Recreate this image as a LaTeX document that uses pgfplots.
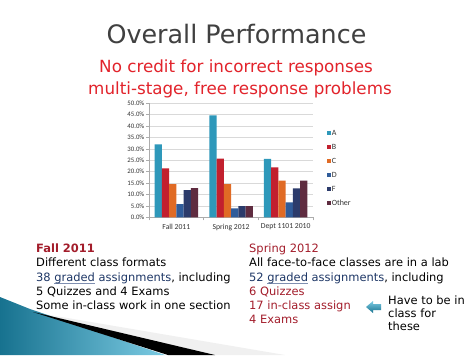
\documentclass[border=0pt]{standalone}
\usepackage{pgfplots}
\pgfplotsset{compat=1.18}
\usepackage{fontspec}
\setmainfont{DejaVu Sans}
\newfontfamily\chartfont{Carlito}
\definecolor{cA}{HTML}{2E98BA}
\definecolor{cB}{HTML}{C2202E}
\definecolor{cC}{HTML}{E06B25}
\definecolor{cD}{HTML}{305C9A}
\definecolor{cF}{HTML}{2C3B6B}
\definecolor{cO}{HTML}{5F2C40}
\definecolor{titlegray}{HTML}{404040}
\definecolor{subred}{HTML}{E2232B}
\definecolor{darkred}{HTML}{A31D2B}
\definecolor{navy}{HTML}{1E3766}
\definecolor{tealdark}{HTML}{17728F}
\definecolor{teallight}{HTML}{7CCBE3}
\definecolor{ulc}{HTML}{7F8FB0}
\newcommand\squig[1]{\setbox0\hbox{#1}\rlap{\color{ulc}\rule[-2.2bp]{\wd0}{0.8bp}}\box0\relax}
\begin{document}
\begin{tikzpicture}[x=1bp,y=1bp]
\useasboundingbox (0,0) rectangle (474,355);
\fill[white] (0,0) rectangle (474,355);
% decorative swoosh (image coordinates, y downwards)
\begin{scope}[shift={(0,355)},yscale=-1]
  \fill[gray!12] (38,313) -- (285,355) -- (205,355) -- cycle;
  \shade[left color=tealdark, right color=teallight] (0,297) -- (30,309) -- (165,355) -- (0,355) -- cycle;
  \fill[black] (33,312) -- (215,355) -- (168,355) -- cycle;
  % arrow
  \shade[top color=teallight, bottom color=tealdark] (366,307) -- (373,301) -- (373,304) -- (381,304) -- (381,310) -- (373,310) -- (373,313) -- cycle;
\end{scope}
% titles
\node[anchor=base, text=titlegray, font=\fontsize{25.5}{30}\selectfont, inner sep=0pt] at (236.5,355-43.3) {Overall Performance};
\node[anchor=base, text=subred, font=\fontsize{16.8}{20}\selectfont, inner sep=0pt] at (236,355-72.8) {No credit for incorrect responses};
\node[anchor=base, text=subred, font=\fontsize{16.8}{20}\selectfont, inner sep=0pt] at (240,355-94.3) {multi-stage, free response problems};
% left text block
\begin{scope}[every node/.style={anchor=base west, inner sep=0pt, font=\fontsize{11.5}{14}\selectfont}]
\node[text=darkred, font=\fontsize{11.5}{14}\selectfont\bfseries] at (36,355-252.7) {Fall 2011};
\node at (36,355-266.9) {Different class formats};
\node at (36,355-281.1) {{\color{navy}38 \squig{graded} assignments}, including};
\node at (36,355-295.3) {5 Quizzes and 4 Exams};
\node at (36,355-309.5) {Some in-class work in one section};
% right text block
\node[text=darkred] at (249,355-252.7) {Spring 2012};
\node at (249,355-266.9) {All face-to-face classes are in a lab};
\node at (249,355-281.1) {{\color{navy}52 \squig{graded} assignments}, including};
\node[text=darkred] at (249,355-295.3) {6 Quizzes};
\node[text=darkred] at (249,355-309.5) {17 in-class assign};
\node[text=darkred] at (249,355-323.7) {4 Exams};
\node at (388,355-304) {Have to be in};
\node at (388,355-317.4) {class for};
\node at (388,355-330.8) {these};
\end{scope}
\begin{axis}[
  at={(149bp,137.7bp)}, anchor=south west,
  width=164bp, height=114bp, scale only axis,
  ybar=0pt, bar width=7.25bp,
  xmin=-0.5, xmax=2.5, ymin=0, ymax=50,
  xtick={0,1,2}, xticklabels={Fall 2011,Spring 2012,Dept 1101 2010},
  minor xtick={-0.5,0.5,1.5,2.5},
  ytick={0,5,...,50},
  ymajorgrids, grid style={draw=gray!30, line width=0.5bp},
  axis x line*=bottom, axis y line*=left,
  axis line style={draw=gray!65, line width=0.5bp},
  tick align=outside,
  major tick length=3bp, minor tick length=3bp,
  tick style={draw=gray!65, line width=0.5bp},
  major x tick style={draw=none},
  /pgf/number format/assume math mode=true,
  yticklabel={\pgfmathprintnumber[fixed,fixed zerofill,precision=1]{\tick}\%},
  yticklabel style={font=\chartfont\fontsize{6.8}{7}\selectfont, text=black!80, inner sep=1.5bp},
  xticklabel style={font=\chartfont\fontsize{7.7}{8}\selectfont, text=black!80},
  every axis plot post/.append style={draw=none,
    legend image code/.code={\fill[##1] (0bp,-1.9bp) rectangle (4.3bp,1.9bp);}},
  legend style={at={(1.063,0.432)}, anchor=west, draw=none, fill=none,
    font=\chartfont\fontsize{8}{9}\selectfont, text=black!80,
    nodes={inner sep=1bp, text height=5.5bp, text depth=0bp},
    row sep=6.5bp},
  legend cell align=left,
]
\addplot[fill=cA] coordinates {(0,32.0) (1,44.7) (2,25.6)};
\addplot[fill=cB] coordinates {(0,21.5) (1,25.7) (2,21.9)};
\addplot[fill=cC] coordinates {(0,14.6) (1,14.6) (2,16.1)};
\addplot[fill=cD] coordinates {(0,5.8) (1,3.9) (2,6.5)};
\addplot[fill=cF] coordinates {(0,11.9) (1,4.9) (2,12.7)};
\addplot[fill=cO] coordinates {(0,12.8) (1,4.9) (2,16.1)};
\legend{A,B,C,D,F,Other}
\end{axis}
\end{tikzpicture}
\end{document}
